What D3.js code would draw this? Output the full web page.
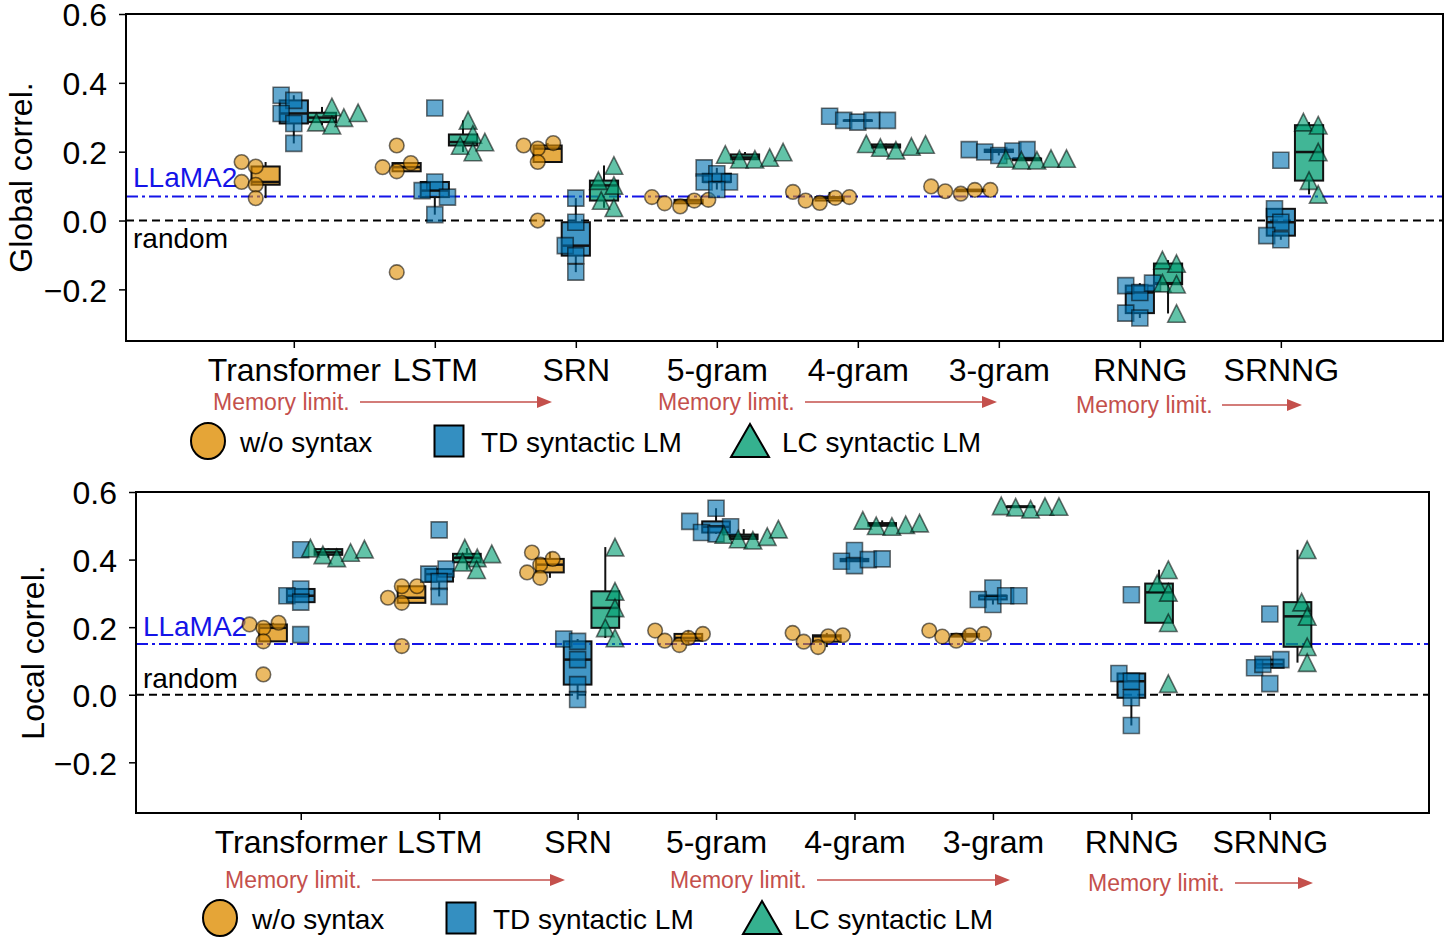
<!DOCTYPE html>
<html>
<head>
<meta charset="utf-8">
<script src="https://cdn.jsdelivr.net/npm/d3@7"></script>
<style>
  body { margin: 0; background: #fff; }
  text { font-family: "Liberation Sans", Arial, sans-serif; }
</style>
</head>
<body>
<svg id="chart" width="1446" height="940"></svg>
<script>
// categories and groups
const models = ["Transformer", "LSTM", "SRN", "5-gram", "4-gram", "3-gram", "RNNG", "SRNNG"];
const hues = ["w/o syntax", "TD syntactic LM", "LC syntactic LM"];
const yTicks = [-0.2, 0.0, 0.2, 0.4, 0.6];
const llamaGlobal = 0.07;
const llamaLocal = 0.15;
const randomLevel = 0.0;

// Global correlation, one list of runs per model
const globalWo = [
  [0.170, 0.157, 0.112, 0.104, 0.065],
  [0.218, 0.155, 0.143, 0.167, -0.150],
  [0.218, 0.209, 0.225, 0.170, 0.000],
  [0.068, 0.050, 0.041, 0.058, 0.060],
  [0.083, 0.058, 0.051, 0.066, 0.068],
  [0.099, 0.085, 0.078, 0.089, 0.089],
  [], []
];
const globalTD = [
  [0.364, 0.349, 0.311, 0.282, 0.224],
  [0.327, 0.112, 0.087, 0.068, 0.017],
  [0.065, -0.005, -0.073, -0.102, -0.150],
  [0.153, 0.136, 0.112, 0.112, 0.090],
  [0.303, 0.291, 0.286, 0.291, 0.291],
  [0.206, 0.199, 0.189, 0.202, 0.206],
  [-0.189, -0.209, -0.182, -0.269, -0.283],
  [0.175, 0.034, -0.005, -0.044, -0.056]
];
const globalLC = [
  [0.286, 0.330, 0.277, 0.299, 0.313],
  [0.291, 0.250, 0.218, 0.199, 0.228],
  [0.160, 0.116, 0.102, 0.058, 0.037],
  [0.192, 0.178, 0.178, 0.183, 0.199],
  [0.223, 0.212, 0.204, 0.215, 0.221],
  [0.180, 0.175, 0.175, 0.180, 0.180],
  [-0.115, -0.125, -0.182, -0.185, -0.270],
  [0.286, 0.277, 0.199, 0.116, 0.076]
];

// Local correlation
const localWo = [
  [0.208, 0.198, 0.213, 0.158, 0.060],
  [0.287, 0.321, 0.272, 0.321, 0.144],
  [0.421, 0.362, 0.385, 0.346, 0.402],
  [0.190, 0.160, 0.147, 0.168, 0.180],
  [0.183, 0.157, 0.141, 0.173, 0.176],
  [0.190, 0.172, 0.160, 0.176, 0.180],
  [], []
];
const localTD = [
  [0.429, 0.313, 0.293, 0.274, 0.178],
  [0.488, 0.372, 0.357, 0.335, 0.291],
  [0.165, 0.158, 0.104, 0.030, -0.014],
  [0.552, 0.513, 0.480, 0.476, 0.497],
  [0.427, 0.395, 0.382, 0.400, 0.402],
  [0.316, 0.282, 0.267, 0.293, 0.293],
  [0.296, 0.063, 0.040, -0.009, -0.091],
  [0.239, 0.080, 0.090, 0.104, 0.033]
];
const localLC = [
  [0.434, 0.414, 0.405, 0.421, 0.431],
  [0.434, 0.405, 0.417, 0.392, 0.370],
  [0.437, 0.306, 0.257, 0.198, 0.168],
  [0.474, 0.461, 0.457, 0.468, 0.490],
  [0.516, 0.500, 0.498, 0.503, 0.508],
  [0.559, 0.555, 0.549, 0.557, 0.557],
  [0.370, 0.329, 0.303, 0.213, 0.033],
  [0.429, 0.274, 0.232, 0.142, 0.095]
];

// strip jitter of each run, in category units from the model centre
const globalWoJit = [
  [-0.37, -0.27, -0.37, -0.27, -0.27],
  [-0.27, -0.37, -0.27, -0.17, -0.27],
  [-0.37, -0.27, -0.16, -0.27, -0.27],
  [-0.46, -0.37, -0.26, -0.16, -0.06],
  [-0.46, -0.37, -0.27, -0.16, -0.06],
  [-0.48, -0.38, -0.27, -0.17, -0.06],
  [], []
];
const globalTDJit = [
  [-0.09, 0, -0.09, 0, 0],
  [0, 0, -0.09, 0.09, 0],
  [0, 0, -0.075, 0, 0],
  [-0.09, 0, -0.09, 0.09, 0],
  [-0.2, -0.1, 0, 0.1, 0.21],
  [-0.21, -0.1, 0, 0.1, 0.2],
  [-0.1, 0, 0.09, -0.1, 0],
  [0, -0.045, 0, -0.1, 0]
];
const globalLCJit = [
  [0.16, 0.27, 0.27, 0.355, 0.456],
  [0.236, 0.27, 0.18, 0.27, 0.355],
  [0.27, 0.16, 0.27, 0.18, 0.27],
  [0.06, 0.16, 0.27, 0.375, 0.47],
  [0.06, 0.16, 0.27, 0.38, 0.48],
  [0.05, 0.16, 0.27, 0.37, 0.48],
  [0.16, 0.26, 0.16, 0.26, 0.26],
  [0.16, 0.265, 0.265, 0.2, 0.265]
];
const localWoJit = [
  [-0.37, -0.27, -0.16, -0.27, -0.27],
  [-0.37, -0.27, -0.27, -0.16, -0.27],
  [-0.33, -0.365, -0.27, -0.27, -0.18],
  [-0.44, -0.37, -0.265, -0.2, -0.095],
  [-0.447, -0.367, -0.263, -0.19, -0.084],
  [-0.46, -0.366, -0.265, -0.168, -0.065],
  [], []
];
const localTDJit = [
  [0, 0, -0.1, 0, 0],
  [0, 0.05, -0.075, 0, 0],
  [-0.1, 0, 0, 0, 0],
  [0, -0.19, -0.105, 0, 0.105],
  [0, -0.094, 0, 0.1, 0.2],
  [0, -0.106, 0, 0.092, 0.188],
  [0, -0.09, 0, 0, 0],
  [0, -0.11, -0.05, 0.08, 0]
];
const localLCJit = [
  [0.07, 0.16, 0.26, 0.36, 0.46],
  [0.185, 0.275, 0.38, 0.17, 0.27],
  [0.27, 0.27, 0.27, 0.2, 0.27],
  [0.056, 0.16, 0.266, 0.37, 0.45],
  [0.06, 0.157, 0.27, 0.37, 0.47],
  [0.06, 0.164, 0.272, 0.376, 0.477],
  [0.267, 0.187, 0.267, 0.267, 0.267],
  [0.27, 0.23, 0.27, 0.27, 0.27]
];

const colors = ["#DE8F05", "#0173B2", "#029E73"];
const hueOffset = [-0.2, 0, 0.2];
const boxWidth = 0.2;
const memRed = "#c4504c";

const svg = d3.select("#chart");
svg.append("rect").attr("width", 1446).attr("height", 940).attr("fill", "#fff");

// matplotlib-like "^" marker
const triangle = {
  draw(ctx, size) {
    const h = Math.sqrt(size) / 2;
    ctx.moveTo(0, -h); ctx.lineTo(h, h); ctx.lineTo(-h, h); ctx.closePath();
  }
};
const shapes = [
  d3.symbol().type(d3.symbolCircle).size(Math.PI * 7.3 * 7.3),
  d3.symbol().type(d3.symbolSquare).size(16 * 16),
  d3.symbol().type(triangle).size(17.5 * 17.5)
];

const panels = [
  { label: "Global correl.", left: 126, right: 1443, top: 14, bottom: 341,
    series: [globalWo, globalTD, globalLC], jit: [globalWoJit, globalTDJit, globalLCJit],
    llama: llamaGlobal, llamaDy: -9, randomDy: 27, labelX: 32,
    memory: [[213, 360, 552, 402], [658, 805, 997, 402], [1076, 1222, 1302, 405]],
    legendY: 441, legendX: [208, 449, 750] },
  { label: "Local correl.", left: 136, right: 1429, top: 492, bottom: 813,
    series: [localWo, localTD, localLC], jit: [localWoJit, localTDJit, localLCJit],
    llama: llamaLocal, llamaDy: -8, randomDy: -7, labelX: 44,
    memory: [[225, 372, 565, 880], [670, 817, 1010, 880], [1088, 1235, 1313, 883]],
    legendY: 918, legendX: [220, 461, 762] }
];

function boxStats(vals) {
  const s = vals.slice().sort(d3.ascending);
  const q1 = d3.quantile(s, 0.25), med = d3.quantile(s, 0.5), q3 = d3.quantile(s, 0.75);
  const iqr = q3 - q1;
  const lo = d3.min(s.filter(v => v >= q1 - 1.5 * iqr));
  const hi = d3.max(s.filter(v => v <= q3 + 1.5 * iqr));
  return { q1, med, q3, lo, hi };
}

panels.forEach(p => {
  const x = d3.scaleLinear().domain([-1.19, 8.15]).range([p.left, p.right]);
  const y = d3.scaleLinear().domain([-0.35, 0.6]).range([p.bottom, p.top]);
  const g = svg.append("g");

  // reference lines
  g.append("line")
    .attr("x1", p.left).attr("x2", p.right)
    .attr("y1", y(randomLevel)).attr("y2", y(randomLevel))
    .attr("stroke", "#000").attr("stroke-width", 2).attr("stroke-dasharray", "8,5");
  g.append("line")
    .attr("x1", p.left).attr("x2", p.right)
    .attr("y1", y(p.llama)).attr("y2", y(p.llama))
    .attr("stroke", "#1414e8").attr("stroke-width", 2).attr("stroke-dasharray", "12,4,3,4");
  g.append("text")
    .attr("x", x(-1.14)).attr("y", y(p.llama) + p.llamaDy)
    .attr("fill", "#1414e8").style("font-size", "28px").text("LLaMA2");
  g.append("text")
    .attr("x", x(-1.14)).attr("y", y(randomLevel) + p.randomDy)
    .attr("fill", "#000").style("font-size", "28px").text("random");

  // boxes
  p.series.forEach((ser, h) => {
    ser.forEach((vals, i) => {
      if (!vals.length) return;
      const st = boxStats(vals);
      const cx = i + hueOffset[h];
      const bg = g.append("g");
      bg.append("line")
        .attr("x1", x(cx)).attr("x2", x(cx))
        .attr("y1", y(st.q3)).attr("y2", y(st.hi))
        .attr("stroke", "#111").attr("stroke-width", 2);
      bg.append("line")
        .attr("x1", x(cx)).attr("x2", x(cx))
        .attr("y1", y(st.q1)).attr("y2", y(st.lo))
        .attr("stroke", "#111").attr("stroke-width", 2);
      bg.append("rect")
        .attr("x", x(cx - boxWidth / 2)).attr("width", x(boxWidth) - x(0))
        .attr("y", y(st.q3)).attr("height", Math.max(y(st.q1) - y(st.q3), 0.5))
        .attr("fill", colors[h]).attr("fill-opacity", 0.75)
        .attr("stroke", "#111").attr("stroke-width", 2);
      bg.append("line")
        .attr("x1", x(cx - boxWidth / 2)).attr("x2", x(cx + boxWidth / 2))
        .attr("y1", y(st.med)).attr("y2", y(st.med))
        .attr("stroke", "#111").attr("stroke-width", 2.5);
    });
  });

  // strip points
  p.series.forEach((ser, h) => {
    ser.forEach((vals, i) => {
      g.selectAll(null)
        .data(vals.map((v, k) => ({ v, dx: p.jit[h][i][k] })))
        .enter().append("path")
        .attr("d", shapes[h])
        .attr("transform", d => "translate(" + x(i + d.dx) + "," + y(d.v) + ")")
        .attr("fill", colors[h]).attr("fill-opacity", 0.62)
        .attr("stroke", "#000").attr("stroke-opacity", 0.55).attr("stroke-width", 1.6);
    });
  });

  // axes
  const xAxis = g.append("g")
    .attr("transform", "translate(0," + p.bottom + ")")
    .call(d3.axisBottom(x).tickValues(d3.range(models.length))
      .tickFormat(i => models[i]).tickSize(7).tickPadding(10).tickSizeOuter(0));
  const yAxis = g.append("g")
    .attr("transform", "translate(" + p.left + ",0)")
    .call(d3.axisLeft(y).tickValues(yTicks).tickFormat(d3.format(".1f"))
      .tickSize(7).tickPadding(12).tickSizeOuter(0));
  [xAxis, yAxis].forEach(a => {
    a.select(".domain").remove();
    a.selectAll(".tick line").attr("stroke", "#000").attr("stroke-width", 1.5);
    a.selectAll(".tick text").attr("fill", "#000")
      .style("font-size", "32px").style("font-family", "'Liberation Sans', Arial, sans-serif");
  });
  yAxis.selectAll(".tick text").attr("dy", "0.37em");

  g.append("rect")
    .attr("x", p.left).attr("y", p.top)
    .attr("width", p.right - p.left).attr("height", p.bottom - p.top)
    .attr("fill", "none").attr("stroke", "#000").attr("stroke-width", 2);

  g.append("text")
    .attr("transform", "translate(" + p.labelX + "," + (p.top + p.bottom) / 2 + ") rotate(-90)")
    .attr("text-anchor", "middle").style("font-size", "32px").text(p.label);

  // memory limit annotations
  p.memory.forEach(m => {
    g.append("text").attr("x", m[0]).attr("y", m[3] + 8)
      .attr("fill", memRed).style("font-size", "23px").text("Memory limit.");
    g.append("line").attr("x1", m[1]).attr("x2", m[2] - 12)
      .attr("y1", m[3]).attr("y2", m[3])
      .attr("stroke", memRed).attr("stroke-width", 1.6);
    g.append("path")
      .attr("d", "M" + m[2] + "," + m[3] + "L" + (m[2] - 15) + "," + (m[3] - 6) +
        "L" + (m[2] - 15) + "," + (m[3] + 6) + "Z")
      .attr("fill", memRed);
  });

  // legend
  const ly = p.legendY;
  g.append("ellipse").attr("cx", p.legendX[0]).attr("cy", ly).attr("rx", 17).attr("ry", 18)
    .attr("fill", colors[0]).attr("fill-opacity", 0.8).attr("stroke", "#000").attr("stroke-width", 2);
  g.append("rect").attr("x", p.legendX[1] - 14.5).attr("y", ly - 15.5).attr("width", 29).attr("height", 31)
    .attr("fill", colors[1]).attr("fill-opacity", 0.8).attr("stroke", "#000").attr("stroke-width", 2);
  g.append("path")
    .attr("d", "M" + p.legendX[2] + "," + (ly - 17) + "L" + (p.legendX[2] + 19) + "," + (ly + 16) +
      "L" + (p.legendX[2] - 19) + "," + (ly + 16) + "Z")
    .attr("fill", colors[2]).attr("fill-opacity", 0.8).attr("stroke", "#000").attr("stroke-width", 2);
  hues.forEach((h, k) => {
    g.append("text").attr("x", p.legendX[k] + 32).attr("y", ly + 11)
      .style("font-size", "28px").attr("fill", "#000").text(h);
  });
});
</script>
</body>
</html>
